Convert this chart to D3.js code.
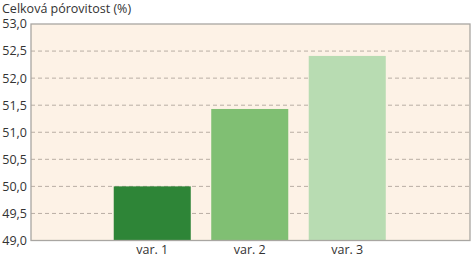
<html>
<head>
<meta charset="utf-8">
<script src="https://d3js.org/d3.v7.min.js"></script>
<style>
  body { margin: 0; background: #fff; }
  text { font-family: "Open Sans", "Noto Sans", sans-serif; fill: #333; }
</style>
</head>
<body>
<div id="chart"></div>
<script>
var categories = ["var. 1", "var. 2", "var. 3"];
var values = [50.0, 51.43, 52.41];
var colors = ["#2e8537", "#80bf73", "#b8dcb2"];
var yTicks = [49.0, 49.5, 50.0, 50.5, 51.0, 51.5, 52.0, 52.5, 53.0];
var title = "Celková pórovitost (%)";

var width = 474, height = 260;
var plotL = 31, plotR = 470, plotT = 24, plotB = 240.5;

var svg = d3.select("#chart").append("svg")
    .attr("width", width).attr("height", height);

var y = d3.scaleLinear().domain([49, 53]).range([plotB, plotT]);
var x = d3.scaleBand().domain(categories)
    .range([plotL + 72.5, plotL + 72.5 + 3 * 97.5])
    .paddingInner(0.21).paddingOuter(0.105);

svg.append("rect")
    .attr("x", plotL).attr("y", plotT)
    .attr("width", plotR - plotL).attr("height", plotB - plotT)
    .attr("fill", "#fdf2e6");

// dashed grid
svg.selectAll(".grid").data(yTicks.slice(1, -1)).enter().append("line")
    .attr("x1", plotL).attr("x2", plotR)
    .attr("y1", function(d) { return y(d); })
    .attr("y2", function(d) { return y(d); })
    .attr("stroke", "#b9aea4").attr("stroke-width", 1)
    .attr("stroke-dasharray", "4,3");

svg.selectAll(".bar").data(values).enter().append("rect")
    .attr("x", function(d, i) { return x(categories[i]); })
    .attr("y", function(d) { return y(d); })
    .attr("width", x.bandwidth())
    .attr("height", function(d) { return y(49) - y(d); })
    .attr("fill", function(d, i) { return colors[i]; });

svg.append("rect")
    .attr("x", plotL).attr("y", plotT)
    .attr("width", plotR - plotL).attr("height", plotB - plotT)
    .attr("fill", "none").attr("stroke", "#a9a6a2").attr("stroke-width", 1.3);

// y tick labels
var fmt = function(d) { return d3.format(".1f")(d).replace(".", ","); };
svg.selectAll(".yl").data(yTicks).enter().append("text")
    .attr("x", 27).attr("y", function(d) { return y(d); })
    .attr("dy", "0.35em").attr("text-anchor", "end")
    .attr("font-size", 12.5)
    .text(fmt);

// x labels
svg.selectAll(".xl").data(categories).enter().append("text")
    .attr("x", function(d) { return x(d) + x.bandwidth() / 2; })
    .attr("y", 254).attr("text-anchor", "middle")
    .attr("font-size", 12.5)
    .text(function(d) { return d; });

svg.append("text")
    .attr("x", 2).attr("y", 13)
    .attr("font-size", 12.5)
    .text(title);
</script>
</body>
</html>
